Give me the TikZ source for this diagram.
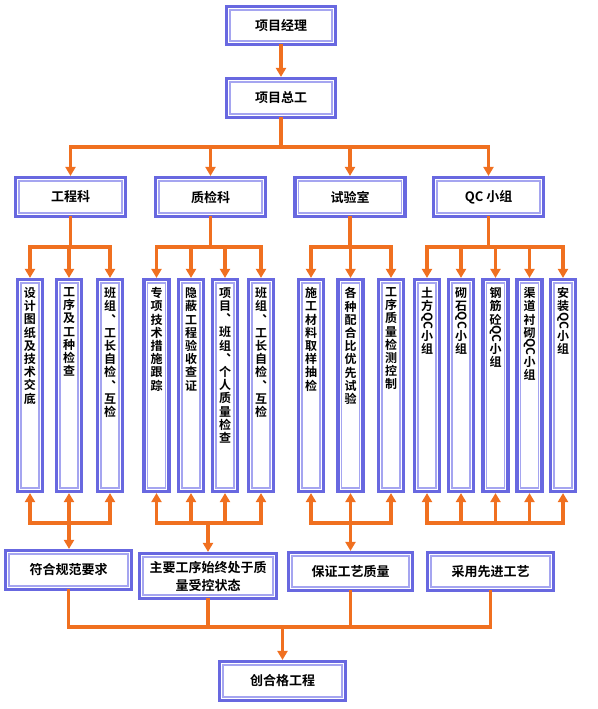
\documentclass[tikz,border=0pt]{standalone}
\usepackage{fontspec}
\usepackage{graphicx}
\newfontfamily\cjk{Noto Sans CJK SC}[BoldFont={* Bold}]
\usetikzlibrary{arrows.meta}
\definecolor{LineOrange}{RGB}{240,112,32}
\definecolor{BoxBlue}{RGB}{104,104,224}
\definecolor{BoxLight}{RGB}{165,165,240}
% vertical column text, one character per line
\newcommand\qc{\rotatebox[origin=c]{-90}{QC}}
\newcommand\vcol[1]{\vbox to 196pt{\baselineskip=13.2pt\lineskiplimit=0pt\lineskip=1pt\vcolnext#1\relax\vfil}}
\def\vcolnext#1{\ifx\relax#1\else\hbox to 14pt{\hss#1\hss}\expandafter\vcolnext\fi}
\tikzset{
	>={Triangle[width=10pt,length=9pt]},
	link/.style={LineOrange, line width=3.6pt, line cap=rect},
	arr/.style={link, ->},
	box/.style={draw=BoxBlue, line width=3.2pt, fill=white, inner sep=0pt,
		font=\cjk\bfseries\fontsize{13}{18}\selectfont},
	tallbox/.style={box, inner ysep=8pt, minimum width=25pt, minimum height=212pt,
		font=\cjk\bfseries\fontsize{12}{13.2}\selectfont},
	innerline/.style={BoxLight, line width=1.3pt},
}
\begin{document}
\begin{tikzpicture}[x=1pt,y=-1pt]
	\useasboundingbox (0,0) rectangle (597,709);
	
	% Top
	\node[box, minimum width=109pt, minimum height=38pt] (pm) at (281,25.5) {项目经理};
	\node[box, minimum width=109pt, minimum height=39pt] (pe) at (281,98) {项目总工};
	
	% Departments
	\node[box, minimum width=110pt, minimum height=39pt] (l1) at (70.5,197) {工程科};
	\node[box, minimum width=110pt, minimum height=39pt] (l2) at (210.5,197) {质检科};
	\node[box, minimum width=110pt, minimum height=39pt] (l3) at (350,197) {试验室};
	\node[box, minimum width=110pt, minimum height=39pt] (l4) at (488.5,197) {QC 小组};
	
	% Tall columns
	\node[tallbox] (a1) at (30,385.5) {\vcol{设计图纸及技术交底}};
	\node[tallbox] (a2) at (69,385.5) {\vcol{工序及工种检查}};
	\node[tallbox] (a3) at (110,385.5) {\vcol{班组︑工长自检︑互检}};
	\node[tallbox] (q1) at (156.5,385.5) {\vcol{专项技术措施跟踪}};
	\node[tallbox] (q2) at (191,385.5) {\vcol{隐蔽工程验收查证}};
	\node[tallbox] (q3) at (225,385.5) {\vcol{项目︑班组︑个人质量检查}};
	\node[tallbox] (q4) at (261,385.5) {\vcol{班组︑工长自检︑互检}};
	\node[tallbox] (s1) at (311,385.5) {\vcol{施工材料取样抽检}};
	\node[tallbox] (s2) at (350.5,385.5) {\vcol{各种配合比优先试验}};
	\node[tallbox] (s3) at (391,385.5) {\vcol{工序质量检测控制}};
	\node[tallbox] (c1) at (427,385.5) {\vcol{土方\qc 小组}};
	\node[tallbox] (c2) at (461,385.5) {\vcol{砌石\qc 小组}};
	\node[tallbox] (c3) at (495.5,385.5) {\vcol{钢筋砼\qc 小组}};
	\node[tallbox] (c4) at (529.5,385.5) {\vcol{渠道衬砌\qc 小组}};
	\node[tallbox] (c5) at (563,385.5) {\vcol{安装\qc 小组}};
	
	% Results
	\node[box, minimum width=126pt, minimum height=39pt] (r1) at (68.5,570) {符合规范要求};
	\node[box, minimum width=137pt, minimum height=45pt, align=center] (r2) at (208,576) {主要工序始终处于质\\量受控状态};
	\node[box, minimum width=124pt, minimum height=38pt] (r3) at (350.5,571.5) {保证工艺质量};
	\node[box, minimum width=126pt, minimum height=38pt] (r4) at (490.5,571.5) {采用先进工艺};
	\node[box, minimum width=126pt, minimum height=39pt] (fin) at (282.5,681) {创合格工程};
	
	% Inner frame lines
	\foreach \n in {pm,pe,l1,l2,l3,l4,a1,a2,a3,q1,q2,q3,q4,s1,s2,s3,c1,c2,c3,c4,c5,r1,r2,r3,r4,fin}
		\draw[innerline] ([shift={(5.2pt,-5.2pt)}]\n.north west) rectangle ([shift={(-5.2pt,5.2pt)}]\n.south east);
	
	% Bus levels
	\coordinate (busA) at (281,147);
	\coordinate (busB) at (0,247);
	\coordinate (busC) at (0,523);
	\coordinate (busD) at (0,627);
	
	% Top links
	\draw[arr] (pm) -- (pe);
	\draw[link] (pe) -- (busA);
	\draw[link] (l1 |- busA) -- (l4 |- busA);
	\foreach \n in {l1,l2,l3,l4} \draw[arr] (\n |- busA) -- (\n);
	
	% Department to columns
	\draw[link] (l1) -- (l1 |- busB);
	\draw[link] (a1 |- busB) -- (a3 |- busB);
	\foreach \n in {a1,a2,a3} \draw[arr] (\n |- busB) -- (\n);
	\draw[link] (l2) -- (l2 |- busB);
	\draw[link] (q1 |- busB) -- (q4 |- busB);
	\foreach \n in {q1,q2,q3,q4} \draw[arr] (\n |- busB) -- (\n);
	\draw[link] (l3) -- (l3 |- busB);
	\draw[link] (s1 |- busB) -- (s3 |- busB);
	\foreach \n in {s1,s2,s3} \draw[arr] (\n |- busB) -- (\n);
	\draw[link] (l4) -- (l4 |- busB);
	\draw[link] (c1 |- busB) -- (c5 |- busB);
	\foreach \n in {c1,c2,c3,c4,c5} \draw[arr] (\n |- busB) -- (\n);
	
	% Columns to results
	\draw[link] (a1 |- busC) -- (a3 |- busC);
	\foreach \n in {a1,a2,a3} \draw[arr] (\n |- busC) -- (\n);
	\draw[arr] (a2 |- busC) -- (a2 |- r1.north);
	\draw[link] (q1 |- busC) -- (q4 |- busC);
	\foreach \n in {q1,q2,q3,q4} \draw[arr] (\n |- busC) -- (\n);
	\draw[arr] (r2 |- busC) -- (r2);
	\draw[link] (s1 |- busC) -- (s3 |- busC);
	\foreach \n in {s1,s2,s3} \draw[arr] (\n |- busC) -- (\n);
	\draw[arr] (s2 |- busC) -- (s2 |- r3.north);
	\draw[link] (c1 |- busC) -- (c5 |- busC);
	\foreach \n in {c1,c2,c3,c4,c5} \draw[arr] (\n |- busC) -- (\n);
	
	% Results to final
	\foreach \n in {r1,r2,r3,r4} \draw[link] (\n) -- (\n |- busD);
	\draw[link] (r1 |- busD) -- (r4 |- busD);
	\draw[arr] (fin |- busD) -- (fin);
	
\end{tikzpicture}
\end{document}
